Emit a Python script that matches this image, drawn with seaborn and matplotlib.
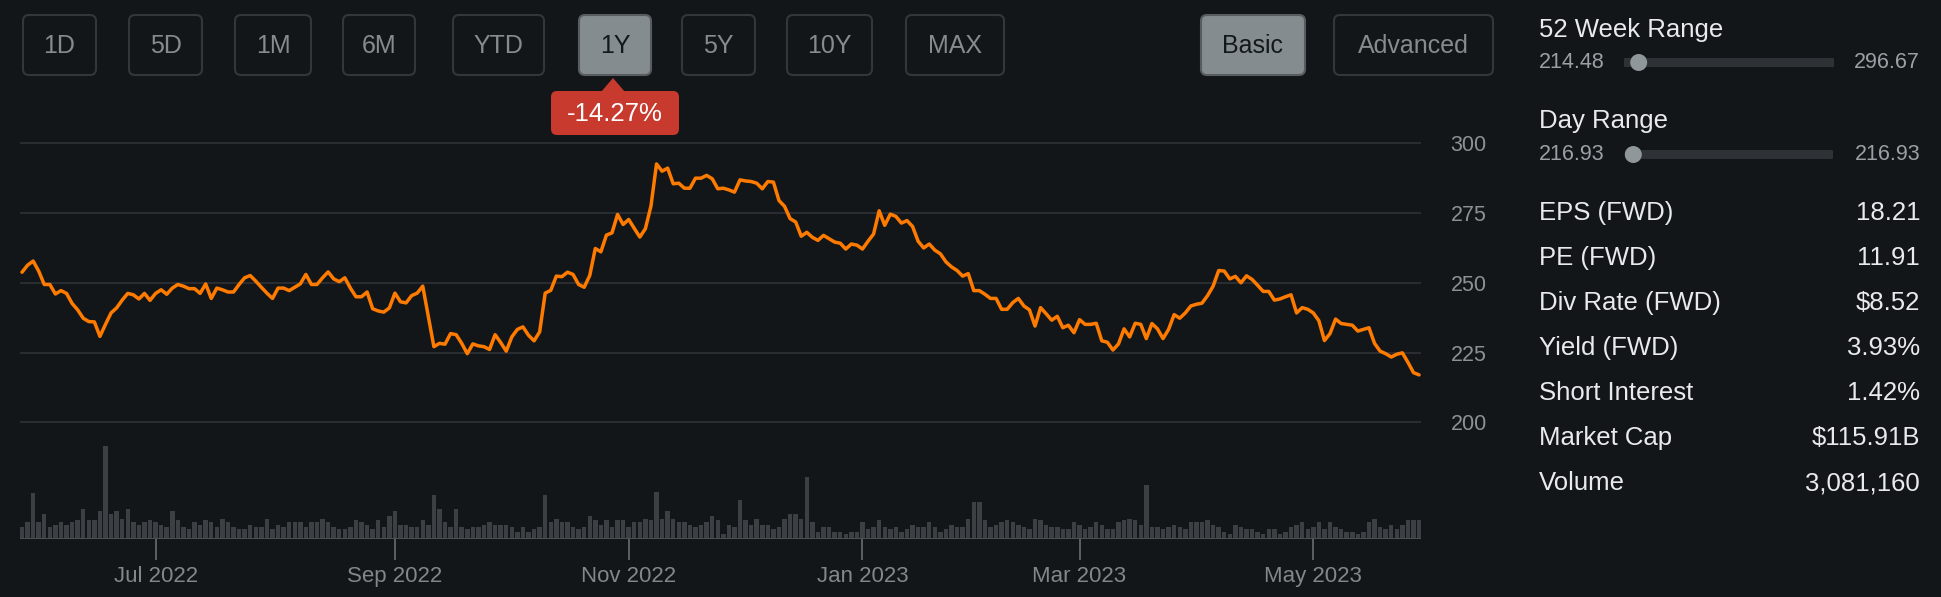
import numpy as np
import pandas as pd
import matplotlib
matplotlib.use("Agg")
import matplotlib.pyplot as plt
from matplotlib.patches import FancyBboxPatch, Polygon, Circle
import seaborn as sns

# ---------------- data ----------------
start_date = "2022-05-26"
end_date = "2023-05-26"
market_holidays = ["2022-05-30", "2022-06-20", "2022-07-04", "2022-09-05", "2022-11-24",
                   "2022-12-26", "2023-01-02", "2023-01-16", "2023-02-20", "2023-04-07"]

price = [
    253.8, 256.3, 257.8, 254.2, 249.4, 249.4, 246.0, 247.2, 246.2, 242.6,
    240.3, 237.3, 236.1, 236.0, 230.8, 235.1, 239.2, 241.0, 243.8, 246.2,
    245.7, 244.2, 246.2, 243.7, 246.2, 247.5, 245.9, 248.1, 249.4, 248.8,
    247.9, 247.9, 246.2, 249.6, 244.4, 248.1, 247.5, 246.7, 246.7, 249.4,
    251.8, 252.6, 250.6, 248.4, 246.3, 244.4, 248.1, 248.1, 247.2, 248.4,
    249.6, 253.0, 249.4, 249.4, 251.8, 253.9, 251.4, 250.4, 251.8, 248.1,
    245.0, 245.0, 246.7, 240.7,
    239.9, 239.5, 241.0, 246.3, 243.2, 242.8, 245.4, 246.3, 248.8, 238.0,
    227.1, 228.3, 228.0, 231.8, 231.4, 228.3, 224.6, 228.1, 227.4, 227.1,
    226.1, 231.4, 228.6, 225.5, 230.6, 233.3, 234.2, 231.2, 229.2, 232.4,
    246.3, 247.3, 252.4, 252.2, 253.8, 253.0, 249.4, 248.4, 252.6, 262.3,
    261.1, 267.1, 267.9, 274.5, 270.9, 272.7, 269.5, 266.4, 269.4, 277.5,
    292.6, 290.0, 291.1, 285.5, 285.7, 283.9, 283.9, 287.5, 287.5, 288.5,
    287.3, 283.7, 283.9,
    283.3, 282.5, 286.9, 286.5, 286.3, 285.7, 283.7, 286.3, 286.1, 279.5,
    277.4, 273.0, 271.8, 266.7, 268.1, 266.3, 265.2, 267.0, 265.8, 264.6,
    264.2, 262.1, 263.9, 263.5, 262.1, 264.9, 267.5, 275.8, 270.6, 274.6,
    273.8, 271.4, 272.3, 270.2, 264.9, 262.5, 263.9, 261.7, 260.4, 257.5,
    255.7, 254.4, 252.4, 253.3, 247.2, 247.2, 245.9, 244.4, 244.4, 240.5,
    240.5, 242.9, 244.4, 241.7, 240.3, 234.5, 241.1, 238.9, 236.6, 238.0,
    233.9, 234.8, 232.1,
    236.8, 235.1, 235.1, 235.5, 229.2, 228.7, 225.9, 228.1, 233.5, 230.6,
    235.5, 235.1, 230.0, 235.4, 233.5, 230.0, 233.3, 238.6, 237.3, 239.2,
    241.7, 242.3, 242.7, 245.4, 248.8, 254.4, 254.2, 251.4, 252.3, 250.0,
    252.5, 251.2, 249.1, 246.9, 246.9, 243.8, 244.2, 245.0, 245.7, 239.2,
    241.1, 240.5, 239.2, 236.4, 229.3, 231.8, 237.0, 235.4, 235.1, 234.8,
    232.7, 233.3, 233.9, 228.3, 225.5, 224.6, 223.4, 224.4, 224.9, 221.5,
    217.8, 217.0,
]

volume_m = [
    # late May / June 2022
    1.9, 2.7, 7.3, 2.7, 4.1, 1.9, 2.3, 2.7, 2.3, 2.7, 3.1, 4.8, 3.1, 3.1, 4.5, 14.8,
    4.1, 4.5, 3.3, 4.8, 2.7, 2.3, 2.7, 3.1,
    # Jul
    2.7, 2.3, 1.9, 4.5, 3.1, 1.9, 1.6, 2.7, 2.3, 3.1, 2.7, 1.9, 3.3, 2.7, 1.9, 1.6,
    1.6, 2.3, 1.9, 1.9,
    # Aug
    3.3, 1.6, 2.3, 1.9, 2.7, 2.7, 2.7, 1.9, 2.7, 2.7, 3.3, 2.7, 1.9, 1.6, 1.6, 1.9,
    3.1, 2.7, 2.3, 1.6, 3.1, 1.9, 3.7,
    # Sep
    4.5, 2.3, 2.3, 1.9, 1.9, 3.1, 2.3, 7.0, 4.8, 2.7, 1.9, 4.8, 1.9, 1.6, 1.9, 1.9,
    2.3, 2.7, 2.3, 2.3, 2.3,
    # Oct
    1.9, 1.2, 1.9, 1.2, 1.6, 1.9, 7.0, 2.7, 3.3, 2.7, 2.7, 1.9, 1.6, 1.9, 3.7, 3.1,
    2.3, 3.1, 1.9, 3.1, 3.1,
    # Nov
    1.9, 2.7, 2.7, 3.3, 3.1, 7.6, 3.3, 4.5, 3.3, 2.7, 2.7, 2.3, 1.9, 2.3, 2.7, 3.7,
    3.1, 0.85, 2.3, 1.9, 6.3,
    # Dec
    3.1, 2.3, 3.3, 2.3, 2.3, 1.6, 1.9, 3.3, 4.1, 4.1, 3.3, 9.9, 2.7, 1.2, 1.9, 1.9,
    1.2, 1.2, 0.85, 1.2, 1.2,
    # Jan 2023
    2.7, 1.6, 1.9, 3.1, 1.9, 1.6, 1.9, 1.2, 1.6, 2.3, 1.9, 1.9, 2.7, 1.9, 1.2, 1.6,
    2.3, 1.9, 1.9, 3.3,
    # Feb
    5.9, 5.9, 3.1, 1.9, 2.3, 2.7, 3.1, 2.7, 2.3, 1.9, 1.6, 3.3, 3.1, 2.3, 1.9, 1.9,
    1.6, 1.6, 2.7,
    # Mar
    2.3, 1.6, 1.9, 2.7, 2.3, 1.6, 1.6, 2.7, 3.1, 3.3, 3.1, 2.3, 8.7, 1.9, 1.9, 1.6,
    1.9, 2.3, 1.9, 1.6, 2.7, 2.7, 2.7,
    # Apr
    3.1, 2.3, 1.9, 1.2, 0.85, 2.3, 1.9, 1.6, 1.6, 1.2, 0.85, 1.6, 1.6, 0.85, 1.2, 1.9,
    2.3, 2.7, 1.6,
    # May
    1.9, 2.7, 1.6, 2.7, 1.9, 1.6, 1.2, 1.2, 0.85, 1.2, 2.7, 3.3, 1.9, 1.6, 2.3, 1.6,
    2.3, 3.1, 3.1, 3.1,
]

price_ticks = [200, 225, 250, 275, 300]
tick_months = ["2022-07-01", "2022-09-01", "2022-11-01", "2023-01-01", "2023-03-01", "2023-05-01"]
tick_labels = ["Jul 2022", "Sep 2022", "Nov 2022", "Jan 2023", "Mar 2023", "May 2023"]

range_buttons = ["1D", "5D", "1M", "6M", "YTD", "1Y", "5Y", "10Y", "MAX"]
selected_range = "1Y"
change_label = "-14.27%"
mode_buttons = ["Basic", "Advanced"]
week52_low, week52_high, week52_pos = "214.48", "296.67", 0.07
day_low, day_high, day_pos = "216.93", "216.93", 0.04
stat_labels = ["EPS (FWD)", "PE (FWD)", "Div Rate (FWD)", "Yield (FWD)",
               "Short Interest", "Market Cap", "Volume"]
stat_values = ["18.21", "11.91", "$8.52", "3.93%", "1.42%", "$115.91B", "3,081,160"]

# ---------------- style ----------------
BG = "#131619"
ORANGE = "#ff7b00"
GRID = "#2c3034"
TICKTXT = "#8b9195"
WHITE = "#e8eaec"
GREY = "#9aa0a5"

sns.set_theme(style="dark")
plt.rcParams["font.family"] = ["Liberation Sans", "DejaVu Sans"]

dates = pd.bdate_range(start_date, end_date, freq="C", holidays=market_holidays)
n = min(len(dates), len(price), len(volume_m))
df = pd.DataFrame({"i": np.arange(n), "date": dates[:n],
                   "price": price[:n], "vol": volume_m[:n]})
tick_pos = [int(np.argmax(df["date"] >= pd.Timestamp(m))) for m in tick_months]

W, H = 1941, 597
fig = plt.figure(figsize=(W / 100, H / 100), dpi=100, facecolor=BG)


def fa(x0, y0, x1, y1):
    return [x0 / W, 1 - y1 / H, (x1 - x0) / W, (y1 - y0) / H]


step = 5.566
x0 = 22
xl, xr = -0.4, n - 1 + 0.4
px_left = x0 + xl * step
px_right = x0 + xr * step

# price axes: 300 at y=143.3, 200 at y=422.3
ppu = (422.3 - 143.3) / 100.0
ax_p = fig.add_axes(fa(px_left, 143.3 - 3 * ppu, px_right, 422.3 + 3 * ppu))
ax_p.set_facecolor(BG)
sns.lineplot(data=df, x="i", y="price", ax=ax_p, color=ORANGE, linewidth=2.5)
ax_p.set_xlim(xl, xr)
ax_p.set_ylim(197, 303)
ax_p.set_yticks(price_ticks)
ax_p.set_yticklabels([str(t) for t in price_ticks])
ax_p.yaxis.tick_right()
ax_p.tick_params(axis="y", length=0, pad=21, labelsize=15.5, labelcolor=TICKTXT)
ax_p.set_xticks([])
ax_p.grid(axis="y", color=GRID, linewidth=1.3)
ax_p.grid(axis="x", visible=False)
for s in ax_p.spines.values():
    s.set_visible(False)
ax_p.set_xlabel("")
ax_p.set_ylabel("")

# volume axes
ax_v = fig.add_axes(fa(px_left, 422.3, px_right, 539.3))
ax_v.patch.set_alpha(0)
sns.barplot(data=df, x="i", y="vol", ax=ax_v, color="#3c4044", saturation=1,
            width=0.8, native_scale=True, errorbar=None, linewidth=0)
ax_v.axhline(0, color="#4b5054", linewidth=2.2, zorder=3)
ax_v.set_xlim(xl, xr)
ax_v.set_ylim(0, 14.8 * 117 / 93)
ax_v.set_yticks([])
ax_v.set_xticks(tick_pos)
ax_v.set_xticklabels(tick_labels)
ax_v.tick_params(axis="x", bottom=True, length=15, width=1.1, color="#6f7478",
                 pad=4, labelsize=16, labelcolor="#81878b", direction="out")
ax_v.grid(False)
for s in ax_v.spines.values():
    s.set_visible(False)
ax_v.set_xlabel("")
ax_v.set_ylabel("")

# overlay axes in pixel coordinates
ax_o = fig.add_axes([0, 0, 1, 1])
ax_o.set_xlim(0, W)
ax_o.set_ylim(H, 0)
ax_o.axis("off")
ax_o.patch.set_visible(False)


def button(xa, xb, label, selected, ya=15, yb=75, fs=18):
    fc = "#858c8f" if selected else BG
    ec = "#575c60" if selected else "#33373b"
    ax_o.add_patch(FancyBboxPatch((xa, ya), xb - xa, yb - ya,
                                  boxstyle="round,pad=0,rounding_size=6",
                                  fc=fc, ec=ec, lw=1.5))
    ax_o.text((xa + xb) / 2, (ya + yb) / 2 + 1, label, ha="center", va="center",
              fontsize=fs, color="#15181b" if selected else "#858b8f")


btn_x = [(23, 96), (129, 202), (235, 311), (343, 415), (453, 544),
         (579, 651), (682, 755), (787, 872), (906, 1004)]
for (xa, xb), lab in zip(btn_x, range_buttons):
    button(xa, xb, lab, lab == selected_range)

mode_x = [(1201, 1305), (1334, 1493)]
for (xa, xb), lab in zip(mode_x, mode_buttons):
    button(xa, xb, lab, lab == "Basic")

# change badge
RED = "#c93a2e"
ax_o.add_patch(FancyBboxPatch((551, 91), 128, 44, boxstyle="round,pad=0,rounding_size=6",
                              fc=RED, ec="none"))
ax_o.add_patch(Polygon([(601, 92), (625, 92), (613, 78)], closed=True, fc=RED, ec="none"))
ax_o.text(615, 114, change_label, ha="center", va="center", fontsize=18.5, color="white")

# right panel
LX, RX = 1539, 1920
ax_o.text(LX, 30, "52 Week Range", ha="left", va="center", fontsize=18.5, color=WHITE)
ax_o.text(LX, 63, week52_low, ha="left", va="center", fontsize=15.5, color=GREY)
ax_o.text(RX, 63, week52_high, ha="right", va="center", fontsize=15.5, color=GREY)
ax_o.add_patch(FancyBboxPatch((1624, 58), 210, 9, boxstyle="round,pad=0,rounding_size=1",
                              fc="#2e3236", ec="none"))
ax_o.add_patch(Circle((1624 + 210 * week52_pos, 62.5), 8.5, fc="#8f979b", ec="none"))

ax_o.text(LX, 121, "Day Range", ha="left", va="center", fontsize=18.5, color=WHITE)
ax_o.text(LX, 155, day_low, ha="left", va="center", fontsize=15.5, color=GREY)
ax_o.text(RX, 155, day_high, ha="right", va="center", fontsize=15.5, color=GREY)
ax_o.add_patch(FancyBboxPatch((1625, 150), 208, 9, boxstyle="round,pad=0,rounding_size=1",
                              fc="#2e3236", ec="none"))
ax_o.add_patch(Circle((1625 + 208 * day_pos, 154.5), 8.5, fc="#8f979b", ec="none"))

for k, (lab, val) in enumerate(zip(stat_labels, stat_values)):
    y = 213 + 45 * k
    ax_o.text(LX, y, lab, ha="left", va="center", fontsize=18.5, color=WHITE)
    ax_o.text(RX, y, val, ha="right", va="center", fontsize=18.5, color=WHITE)

fig.savefig("out.png", dpi=100, facecolor=BG)
